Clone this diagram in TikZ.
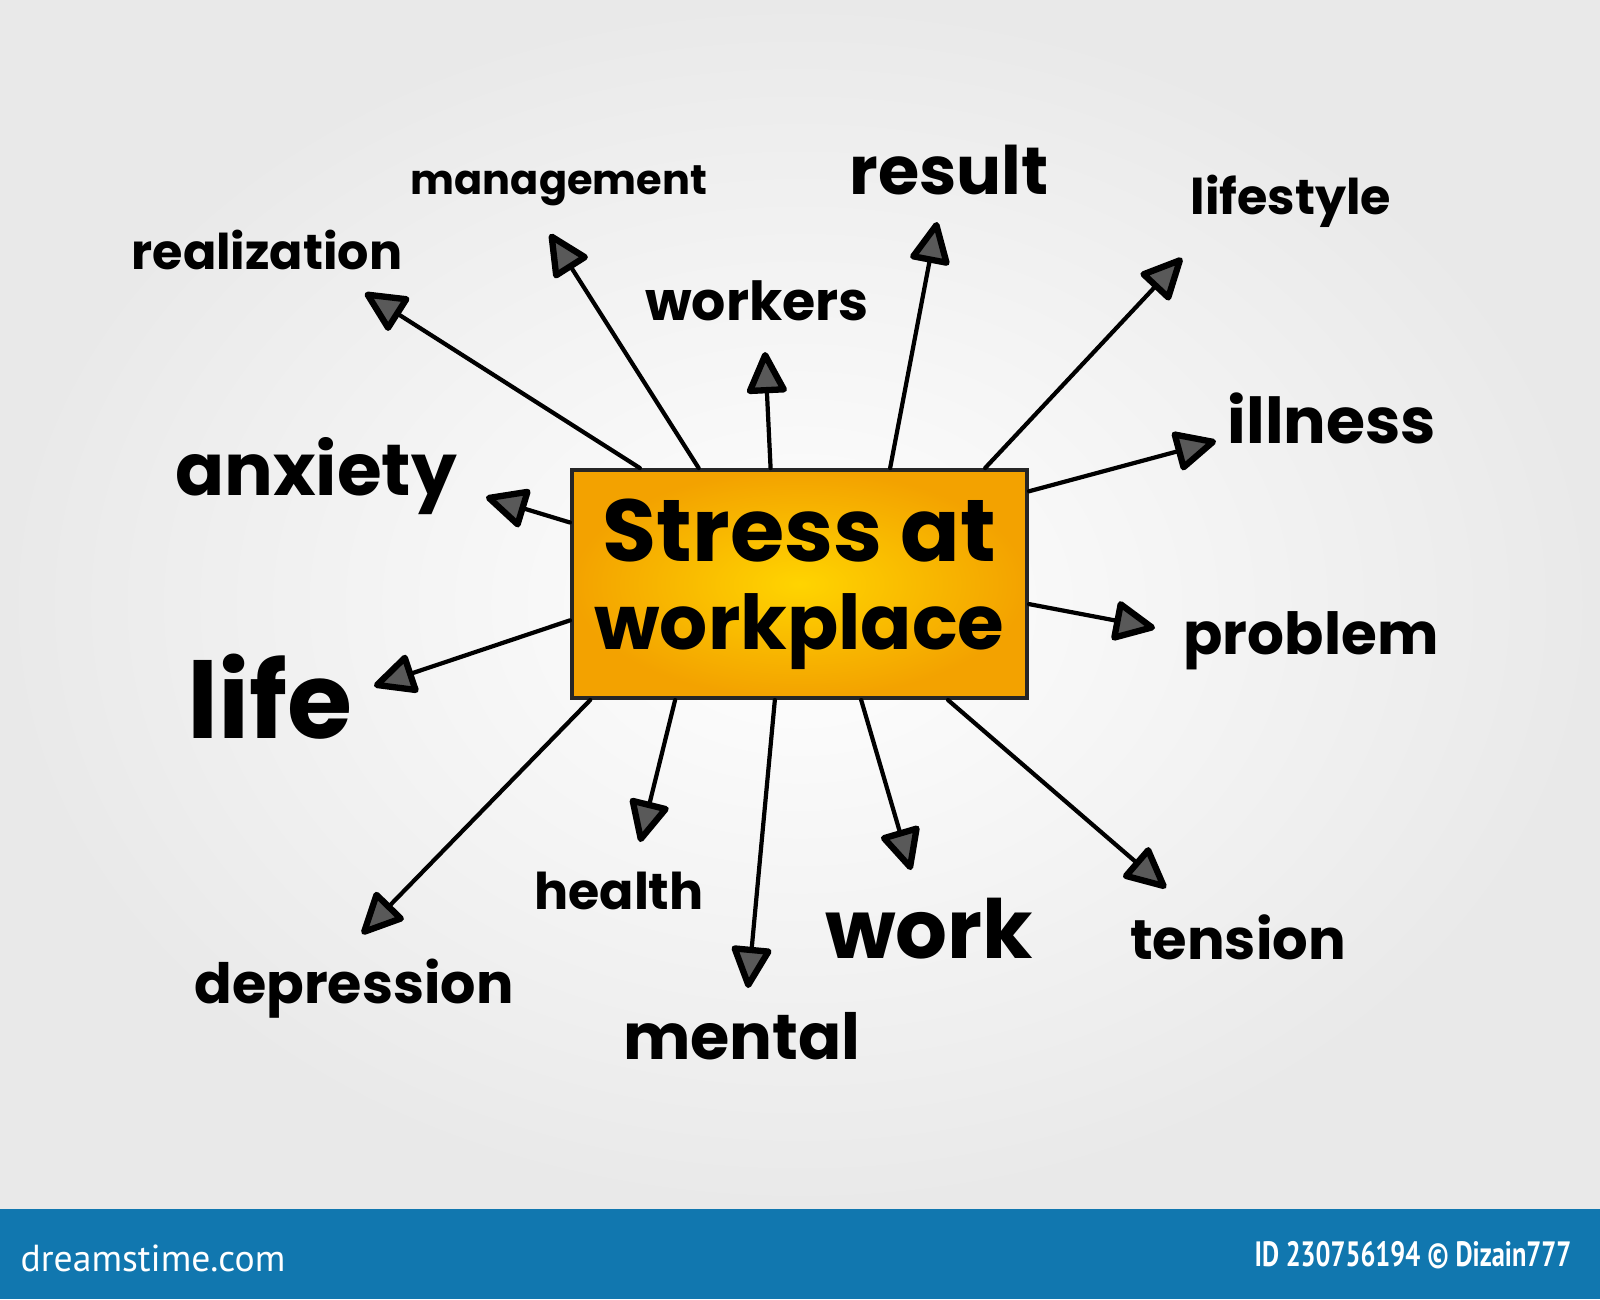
\documentclass[tikz,border=0pt]{standalone}
\usepackage{fontspec}
\setmainfont{Poppins}
\newfontfamily\barfont{PT Sans}
\usetikzlibrary{arrows.meta}
\definecolor{boxedge}{HTML}{F3A200}
\definecolor{boxmid}{HTML}{FFD400}
\definecolor{barblue}{HTML}{1177AF}
\definecolor{bgedge}{HTML}{E9E9E9}
\tikzset{
  lbl/.style={font=\bfseries\fontsize{#1}{#1}\selectfont, inner sep=0pt},
  conn/.style={line width=1.2pt, line cap=round,
    -{Triangle[length=13pt,width=12pt,fill=black!65,line width=1.8pt,round]}},
  bartext/.style={text=white, inner sep=0pt},
}
\begin{document}
\begin{tikzpicture}[x=0.01cm,y=-0.01cm]
\useasboundingbox (0,0) rectangle (1600,1299);
\shade[inner color=white,outer color=bgedge] (0,0) rectangle (1600,1209);
\fill[barblue] (0,1209) rectangle (1600,1299);

\node[draw=black!85, line width=1.1pt, shade, inner color=boxmid, outer color=boxedge,
      minimum width=4.55cm, minimum height=2.28cm, align=center, inner sep=2pt,
      font=\bfseries\fontsize{25}{24}\selectfont] (box) at (799.5,584)
      {Stress at\\[1pt]{\fontsize{21.5}{24}\selectfont workplace}};

% labels
\node[lbl=11.8] (management) at (559,186) {management};
\node[lbl=19] (result) at (949,170) {result};
\node[lbl=14] (lifestyle) at (1291,201) {lifestyle};
\node[lbl=14] (realization) at (267,250) {realization};
\node[lbl=15.3] (workers) at (757,301) {workers};
\node[lbl=20.6] (anxiety) at (316,476) {anxiety};
\node[lbl=18] (illness) at (1332,418) {illness};
\node[lbl=16.5] (problem) at (1311,641) {problem};
\node[lbl=30] (life) at (270,697) {life};
\node[lbl=14.4] (health) at (619,891) {health};
\node[lbl=23.2] (work) at (929,929) {work};
\node[lbl=15.9] (tension) at (1238,937) {tension};
\node[lbl=15.8] (depression) at (354,989) {depression};
\node[lbl=18.1] (mental) at (742,1036) {mental};

% arrow tips
\coordinate (t-realization) at (365,293);
\coordinate (t-management) at (550,234);
\coordinate (t-workers) at (765,352);
\coordinate (t-result) at (937,222);
\coordinate (t-lifestyle) at (1182,258);
\coordinate (t-illness) at (1216,441);
\coordinate (t-anxiety) at (486,497);
\coordinate (t-problem) at (1155,628);
\coordinate (t-life) at (374,686);
\coordinate (t-depression) at (362,934);
\coordinate (t-health) at (640,842);
\coordinate (t-mental) at (748,988);
\coordinate (t-work) at (911,870);
\coordinate (t-tension) at (1166,888);

\draw[conn] (box.144.1) -- (t-realization);
\draw[conn] (box.131.9) -- (t-management);
\draw[conn] (box.104.2) -- (t-workers);
\draw[conn] (box.52) -- (t-result);
\draw[conn] (box.32.2) -- (t-lifestyle);
\draw[conn] (box.22) -- (t-illness);
\draw[conn] (box.165.7) -- (t-anxiety);
\draw[conn] (box.-5) -- (t-problem);
\draw[conn] (box.189.5) -- (t-life);
\draw[conn] (box.209) -- (t-depression);
\draw[conn] (box.223.4) -- (t-health);
\draw[conn] (box.258.4) -- (t-mental);
\draw[conn] (box.298) -- (t-work);
\draw[conn] (box.322.7) -- (t-tension);

% footer
\node[bartext, anchor=west, font=\barfont\fontsize{10.7}{10.7}\selectfont] (dt) at (20,1258) {dreamstime.com};
\node[bartext, anchor=east, font=\barfont\bfseries\fontsize{10}{10}\selectfont] (id) at (1572,1255) {\scalebox{0.75}[1]{ID 230756194 © Dizain777}};
\end{tikzpicture}
\end{document}
